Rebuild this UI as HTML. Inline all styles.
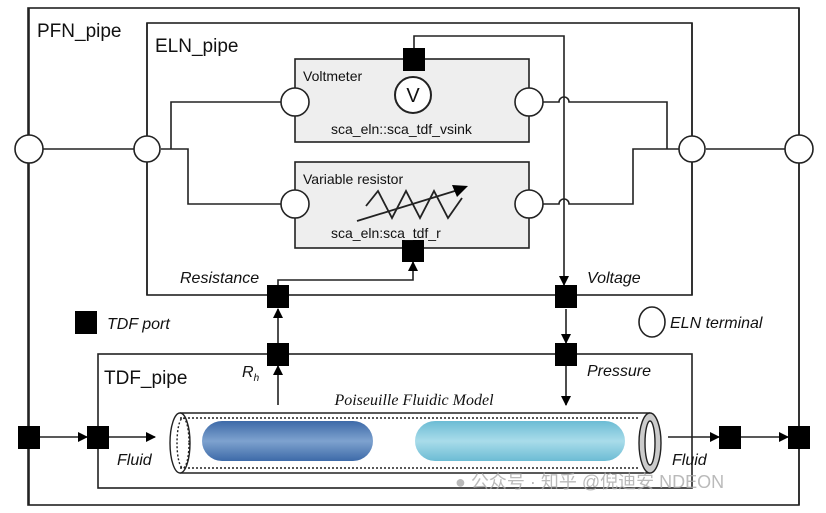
<!DOCTYPE html><html><head><style>body{margin:0;background:#fff}svg{display:block}</style></head><body>
<svg width="826" height="513" viewBox="0 0 826 513" xmlns="http://www.w3.org/2000/svg" font-family="Liberation Sans, sans-serif">
<defs>
<marker id="a" markerWidth="10" markerHeight="10" refX="9" refY="5" orient="auto" markerUnits="userSpaceOnUse"><path d="M0,0 L10,5 L0,10 Z" fill="#000"/></marker>
<linearGradient id="g1" x1="0" y1="0" x2="0" y2="1"><stop offset="0" stop-color="#3d6aa8"/><stop offset=".5" stop-color="#7ea2cf"/><stop offset="1" stop-color="#3d6aa8"/></linearGradient>
<linearGradient id="g2" x1="0" y1="0" x2="0" y2="1"><stop offset="0" stop-color="#6cbcd4"/><stop offset=".5" stop-color="#a9dcea"/><stop offset="1" stop-color="#6cbcd4"/></linearGradient>
</defs>
<g fill="none" stroke="#222" stroke-width="1.6">
<rect x="28" y="8" width="771" height="497"/>
<rect x="147" y="23" width="545" height="272"/>
<rect x="98" y="354" width="594" height="134"/>
<rect x="295" y="59" width="234" height="83" fill="#eee"/>
<rect x="295" y="162" width="234" height="86" fill="#eee"/>
<path d="M29 149H147M161 149H188V204H295M171 149V102H295"/>
<path d="M543 102H559a5 5 0 0 1 10 0H667V149M543 204H559a5 5 0 0 1 10 0H633V149H692M706 149H799"/>
<path d="M29 8V505M147 23V295M692 23V295M799 8V505"/>
<path d="M414 48V36H564V285" marker-end="url(#a)"/>
<path d="M278 285V280H413V262" marker-end="url(#a)"/>
<path d="M278 343V309" marker-end="url(#a)"/>
<path d="M278 405V366" marker-end="url(#a)"/>
<path d="M566 309V343" marker-end="url(#a)"/>
<path d="M566 366V405" marker-end="url(#a)"/>
<path d="M40 437H87" marker-end="url(#a)"/>
<path d="M109 437H155" marker-end="url(#a)"/>
<path d="M668 437H719" marker-end="url(#a)"/>
<path d="M741 437H788" marker-end="url(#a)"/>
<polyline points="366,206 378,191 392,218 406,191 420,218 434,191 448,218 462,198" stroke-width="1.8"/>
<path d="M357 221L458 190" stroke-width="1.8"/>
</g>
<path d="M468 186L452 185L457 197Z" fill="#000"/>
<g fill="#fff" stroke="#222" stroke-width="1.6">
<circle cx="29" cy="149" r="14"/><circle cx="147" cy="149" r="13"/>
<circle cx="692" cy="149" r="13"/><circle cx="799" cy="149" r="14"/>
<circle cx="295" cy="102" r="14"/><circle cx="529" cy="102" r="14"/>
<circle cx="295" cy="204" r="14"/><circle cx="529" cy="204" r="14"/>
<circle cx="413" cy="95" r="18" stroke-width="2"/>
<ellipse cx="652" cy="322" rx="13" ry="15"/>
</g>
<g fill="#000">
<rect x="403" y="48" width="22" height="23"/><rect x="402" y="240" width="22" height="22"/>
<rect x="267" y="285" width="22" height="23"/><rect x="555" y="285" width="22" height="23"/>
<rect x="267" y="343" width="22" height="23"/><rect x="555" y="343" width="22" height="23"/>
<rect x="75" y="311" width="22" height="23"/>
<rect x="18" y="426" width="22" height="23"/><rect x="87" y="426" width="22" height="23"/>
<rect x="719" y="426" width="22" height="23"/><rect x="788" y="426" width="22" height="23"/>
</g>
<g stroke="#222" stroke-width="1.4">
<path d="M180 413H650M180 473H650" fill="none"/>
<ellipse cx="180" cy="443" rx="10" ry="30" fill="#fff"/>
<path d="M180 418H640M180 468H640" stroke-dasharray="2 2" fill="none"/>
<ellipse cx="183" cy="443" rx="6" ry="25" fill="none" stroke-dasharray="2 2"/>
<ellipse cx="650" cy="443" rx="11" ry="30" fill="#ccc"/>
<ellipse cx="650" cy="443" rx="5" ry="22" fill="#fff"/>
</g>
<rect x="202" y="421" width="171" height="40" rx="20" fill="url(#g1)"/>
<rect x="415" y="421" width="210" height="40" rx="20" fill="url(#g2)"/>
<g fill="#111">
<text x="37" y="37" font-size="19">PFN_pipe</text>
<text x="155" y="52" font-size="19">ELN_pipe</text>
<text x="104" y="384" font-size="19">TDF_pipe</text>
<text x="303" y="81" font-size="14">Voltmeter</text>
<text x="331" y="134" font-size="14">sca_eln::sca_tdf_vsink</text>
<text x="303" y="184" font-size="14">Variable resistor</text>
<text x="331" y="238" font-size="14">sca_eln:sca_tdf_r</text>
<text x="413" y="102" font-size="20" text-anchor="middle">V</text>
<g font-style="italic" font-size="16">
<text x="180" y="283">Resistance</text>
<text x="587" y="283">Voltage</text>
<text x="587" y="376">Pressure</text>
<text x="107" y="329">TDF port</text>
<text x="670" y="328">ELN terminal</text>
<text x="117" y="465">Fluid</text>
<text x="672" y="465">Fluid</text>
<text x="242" y="377">R<tspan font-size="10" dy="4">h</tspan></text>
</g>
<text x="414" y="405" font-size="16" font-style="italic" font-family="Liberation Serif, serif" text-anchor="middle">Poiseuille Fluidic Model</text>
</g>
<text x="455" y="488" font-size="18" fill="#aaa" opacity=".8" font-family="Liberation Sans, Noto Sans CJK SC, sans-serif">● 公众号 · 知乎 @倪迪安 NDEON</text>
</svg>
</body></html>
